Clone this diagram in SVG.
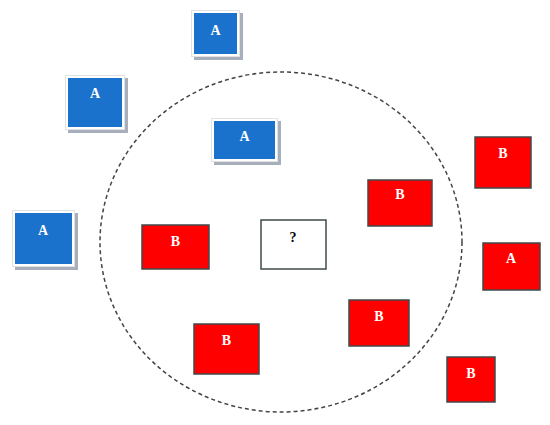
<svg xmlns="http://www.w3.org/2000/svg" width="550" height="425" viewBox="0 0 550 425">
<style>
.shadow{fill:#a7afbd}
.frame{fill:#ffffff;stroke:#e2e2e2;stroke-width:1}
.blue{fill:#1a72cc}
.red{fill:#ff0000;stroke:#3f4a4a;stroke-width:1.5}
.unk{fill:#ffffff;stroke:#3f4a4a;stroke-width:1.5}
.lbl{font-family:"Liberation Serif",serif;font-weight:bold;font-size:14px;fill:#ffffff;text-anchor:middle}
.lblk{font-family:"Liberation Serif",serif;font-weight:bold;font-size:14px;fill:#000000;text-anchor:middle}
.circ{fill:none;stroke:#444444;stroke-width:1.5;stroke-dasharray:4,3}
</style>
<rect width="550" height="425" fill="#ffffff"/>
<g id="connectors">
<ellipse class="circ" cx="281" cy="242" rx="181" ry="170"/>
</g>
<g id="a1">
<rect class="shadow" x="194" y="13" width="49" height="47"/>
<rect class="frame" x="191.5" y="10.5" width="48" height="46"/>
<rect class="blue" x="194" y="13" width="43" height="41"/>
<text class="lbl" x="215.5" y="35">A</text>
</g>
<g id="a2">
<rect class="shadow" x="68" y="78" width="60" height="55"/>
<rect class="frame" x="65.5" y="75.5" width="59" height="54"/>
<rect class="blue" x="68" y="78" width="54" height="49"/>
<text class="lbl" x="95" y="98">A</text>
</g>
<g id="a3">
<rect class="shadow" x="214" y="121" width="67" height="44"/>
<rect class="frame" x="211.5" y="118.5" width="66" height="43"/>
<rect class="blue" x="214" y="121" width="61" height="38"/>
<text class="lbl" x="244.5" y="141">A</text>
</g>
<g id="a4">
<rect class="shadow" x="15" y="213" width="63" height="57"/>
<rect class="frame" x="12.5" y="210.5" width="62" height="56"/>
<rect class="blue" x="15" y="213" width="57" height="51"/>
<text class="lbl" x="43" y="235">A</text>
</g>
<g id="b1">
<rect class="red" x="142" y="225" width="67" height="44"/>
<text class="lbl" x="175.5" y="246">B</text>
</g>
<g id="q">
<rect class="unk" x="261" y="220" width="65" height="49"/>
<text class="lblk" x="293" y="242">?</text>
</g>
<g id="b2">
<rect class="red" x="368" y="180" width="64" height="46"/>
<text class="lbl" x="400" y="199">B</text>
</g>
<g id="b3">
<rect class="red" x="475" y="137" width="56" height="51"/>
<text class="lbl" x="503" y="158">B</text>
</g>
<g id="a5">
<rect class="red" x="483" y="243" width="57" height="47"/>
<text class="lbl" x="511" y="263">A</text>
</g>
<g id="b4">
<rect class="red" x="349" y="300" width="60" height="46"/>
<text class="lbl" x="379" y="321">B</text>
</g>
<g id="b5">
<rect class="red" x="194" y="324" width="65" height="50"/>
<text class="lbl" x="226.5" y="345">B</text>
</g>
<g id="b6">
<rect class="red" x="447" y="357" width="48" height="45"/>
<text class="lbl" x="471" y="378">B</text>
</g>
</svg>
